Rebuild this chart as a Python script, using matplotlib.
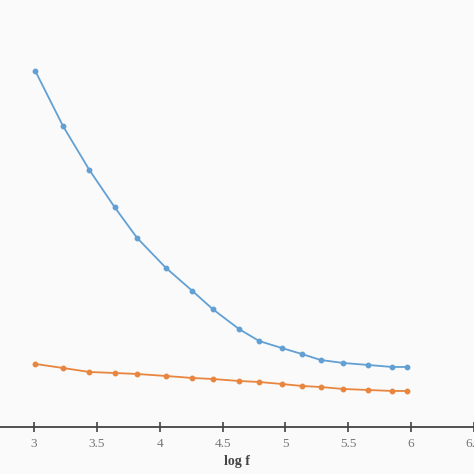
import matplotlib
matplotlib.use("Agg")
import matplotlib.pyplot as plt

# log f positions
log_f = [3.01, 3.23, 3.44, 3.64, 3.82, 4.05, 4.26, 4.42, 4.63, 4.79,
         4.97, 5.13, 5.28, 5.46, 5.66, 5.85, 5.97]

# no y axis is shown, values are in arbitrary units
blue = [35.6, 30.1, 25.7, 22.0, 18.9, 15.9, 13.6, 11.8, 9.8, 8.6,
        7.9, 7.3, 6.7, 6.4, 6.2, 6.0, 6.0]
orange = [6.3, 5.9, 5.5, 5.4, 5.3, 5.1, 4.9, 4.8, 4.6, 4.5,
          4.3, 4.1, 4.0, 3.8, 3.7, 3.6, 3.6]

xticks = [3, 3.5, 4, 4.5, 5, 5.5, 6, 6.5]
xtick_labels = ["3", "3.5", "4", "4.5", "5", "5.5", "6", "6.5"]

plt.rcParams["font.family"] = ["Liberation Serif", "DejaVu Serif"]

fig = plt.figure(figsize=(4.74, 4.74), dpi=100, facecolor="#fafafa")
ax = fig.add_axes([0, 0.0992, 1, 0.9008])
ax.set_facecolor("#fafafa")

ax.plot(log_f, blue, color="#62a0d4", lw=1.3, marker="o", ms=3.2)
ax.plot(log_f, orange, color="#e8853f", lw=1.3, marker="o", ms=3.2)

ax.set_xlim(2.729, 6.479)
ax.set_ylim(0, 42.7)

for s in ["top", "right", "left"]:
    ax.spines[s].set_visible(False)
ax.spines["bottom"].set_color("#444444")
ax.spines["bottom"].set_linewidth(1.3)
ax.set_yticks([])

ax.set_xticks(xticks)
ax.set_xticklabels(xtick_labels)
ax.tick_params(axis="x", direction="inout", length=6.5, width=1.2,
               color="#444444", labelcolor="#777777", labelsize=9.5, pad=5)
ax.set_xlabel("log f", fontsize=10, fontweight="bold", color="#444444", labelpad=3)

fig.savefig("out.png", dpi=100, facecolor=fig.get_facecolor())
